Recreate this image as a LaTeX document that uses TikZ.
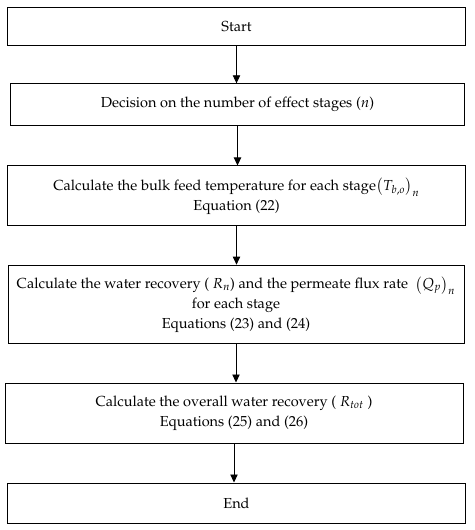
\documentclass[tikz,border=0pt]{standalone}
\usepackage[T1]{fontenc}
\usepackage{amsmath}
\usepackage{mathpazo}
\usetikzlibrary{arrows.meta}

\begin{document}
\begin{tikzpicture}[x=0.75pt, y=-0.75pt,
    stagebox/.style={draw, line width=0.75pt, align=center, inner sep=0pt, font=\fontsize{10.9}{15}\selectfont},
    flow/.style={-{Triangle[length=6pt, width=5.5pt]}, line width=0.6pt}]
    % Page frame (pixels of the reference)
    \useasboundingbox (0,0) rectangle (474,530);

    % Steps of the procedure
    \node[stagebox, minimum width=344pt, minimum height=29pt] (start) at (236.5,26.5) {Start};
    \node[stagebox, minimum width=341pt, minimum height=31pt] (stages) at (237.5,104.5)
        {Decision on the number of effect stages ($n$)};
    \node[stagebox, minimum width=343pt, minimum height=45pt] (feed) at (236.5,196)
        {Calculate the bulk feed temperature for each stage$\bigl(T_{b,o}\bigr)_n$\\ Equation (22)};
    \node[stagebox, minimum width=342pt, minimum height=59pt] (recov) at (236,304.5)
        {Calculate the water recovery ( $R_n$) and the permeate flux rate \ $\bigl(Q_p\bigr)_n$\\ for each stage\\ Equations (23) and (24)};
    \node[stagebox, minimum width=343.5pt, minimum height=45pt] (total) at (234,413)
        {Calculate the overall water recovery ( $R_{tot}$ )\\ Equations (25) and (26)};
    \node[stagebox, minimum width=343pt, minimum height=30pt] (end) at (236.5,503) {End};

    % Arrows between the steps
    \draw[flow] (start.south) -- (start.south |- stages.north);
    \draw[flow] (stages.south) -- (stages.south |- feed.north);
    \draw[flow] (feed.south) -- (feed.south |- recov.north);
    \draw[flow] (recov.south) -- (recov.south |- total.north);
    \draw[flow] (total.south) -- (total.south |- end.north);
\end{tikzpicture}
\end{document}
